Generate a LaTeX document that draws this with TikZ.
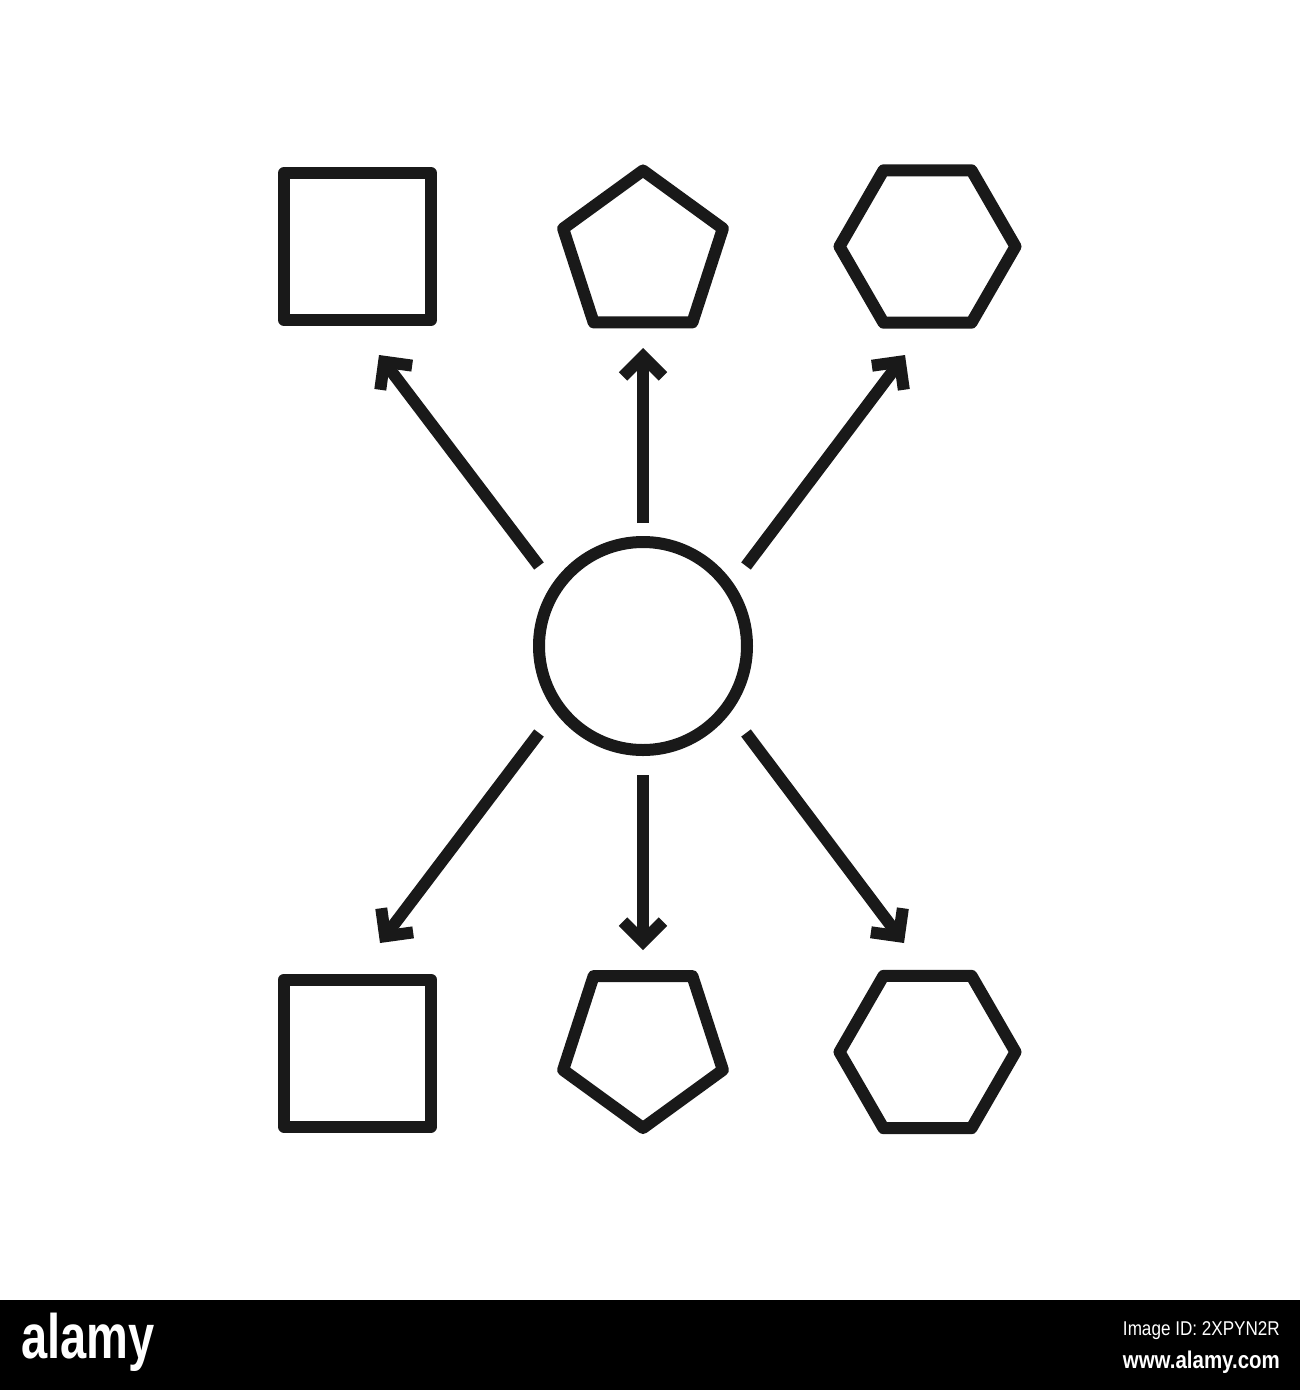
\documentclass[tikz,border=0pt]{standalone}
\usepackage{fontspec}
\usepackage{graphicx}
\setmainfont{Liberation Sans}
\usetikzlibrary{shapes.geometric,arrows.meta}
\begin{document}
\begin{tikzpicture}[x=1pt,y=-1pt,
  ink/.style={draw=black!90, line width=12pt, line join=round},
  sq/.style={ink, rectangle, minimum width=147pt, minimum height=147pt, inner sep=0pt, outer sep=0pt},
  pent/.style={ink, regular polygon, regular polygon sides=5, minimum size=168pt, inner sep=0pt},
  hex/.style={ink, regular polygon, regular polygon sides=6, minimum size=176pt, inner sep=0pt},
  hub/.style={ink, circle, minimum size=208pt, inner sep=0pt},
  arr/.style={draw=black!90, line width=12pt, -{Straight Barb[length=20pt,width=40pt]}},
  wm/.style={text=white, inner sep=0pt}
]
\fill[white] (0,0) rectangle (1300,1390);
\useasboundingbox (0,0) rectangle (1300,1390);

% nodes
\node[sq] (sqT) at (357.5,246.5) {};
\node[pent] (pentT) at (643,254.5) {};
\node[hex] (hexT) at (927.5,246.5) {};
\node[hub] (c) at (643,646) {};
\node[sq] (sqB) at (357.5,1053) {};
\node[pent, shape border rotate=180] (pentB) at (643,1044) {};
\node[hex] (hexB) at (927.5,1052) {};

% connector end points
\coordinate (sUL) at (539,566);
\coordinate (tUL) at (379,355);
\coordinate (sU) at (643,523);
\coordinate (tU) at (643,348);
\coordinate (sUR) at (746,566);
\coordinate (tUR) at (905,355);
\coordinate (sDL) at (539,733);
\coordinate (tDL) at (380,943);
\coordinate (sD) at (643,775);
\coordinate (tD) at (643,950);
\coordinate (sDR) at (746,733);
\coordinate (tDR) at (904,943);

\draw[arr] (sUL) -- (tUL);
\draw[arr] (sU) -- (tU);
\draw[arr] (sUR) -- (tUR);
\draw[arr] (sDL) -- (tDL);
\draw[arr] (sD) -- (tD);
\draw[arr] (sDR) -- (tDR);

% banner
\fill[black] (0,1300) rectangle (1300,1390);
\node[wm, anchor=west, font=\bfseries\fontsize{56}{56}\selectfont] (logo) at (21,1342) {\scalebox{0.84}[1.12]{alamy}};
\node[wm, anchor=east, font=\fontsize{19}{19}\selectfont] (imgid) at (1280,1331) {\scalebox{0.9}[1.05]{Image ID: 2XPYN2R}};
\node[wm, anchor=east, font=\bfseries\fontsize{22}{22}\selectfont] (url) at (1280,1362) {\scalebox{0.93}[1.1]{www.alamy.com}};
\end{tikzpicture}
\end{document}
